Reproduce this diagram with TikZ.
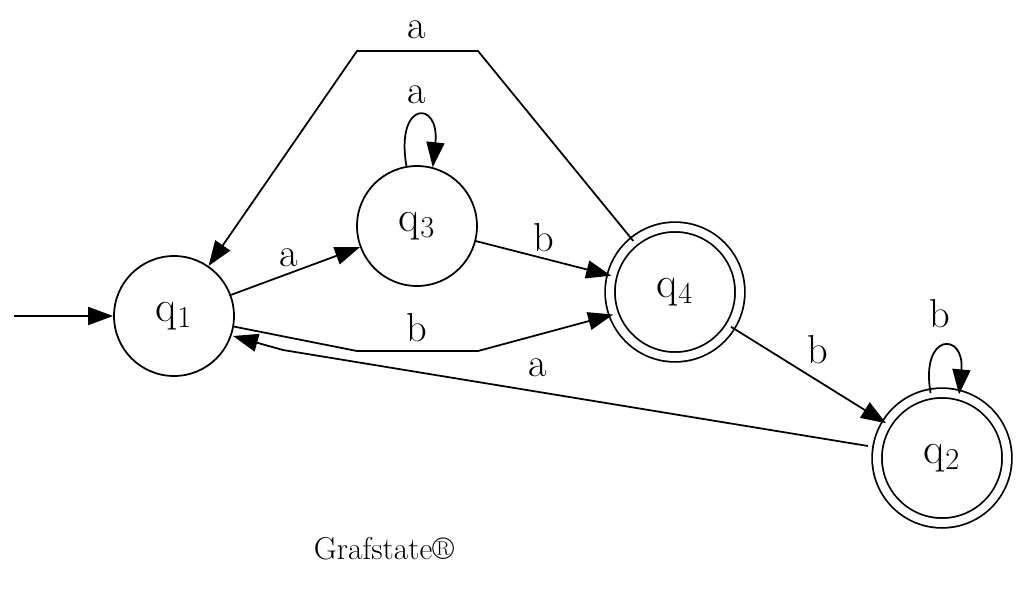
\documentclass[tikz,border=0pt]{standalone}
\usepackage{tikz}
\usetikzlibrary{arrows.meta,positioning,calc}

\tikzset{
    state/.style={draw, circle, line width=1pt, minimum size=2.4cm, inner sep=0pt, font=\fontsize{25}{30}\selectfont},
    accept/.style={state, double, double distance=0.16cm, minimum size=2.6cm},
    edge/.style={-{Triangle[length=0.5cm,width=0.36cm]}, line width=1pt},
    lbl/.style={font=\fontsize{23}{26}\selectfont}
}

\begin{document}
\begin{tikzpicture}[x=0.02cm, y=-0.02cm]
    \useasboundingbox (0,0) rectangle (1024,589);

    % States
    \node[state]  (q1) at (174,316) {q$_1$};
    \node[state]  (q3) at (417,226) {q$_3$};
    \node[accept] (q4) at (675,292) {q$_4$};
    \node[accept] (q2) at (942,458) {q$_2$};
    \coordinate (start) at (14,316);

    % Bend points
    \coordinate (t1) at (478,51);
    \coordinate (t2) at (357,51);
    \coordinate (m1) at (357,351);
    \coordinate (m2) at (478,351);
    \coordinate (r1) at (283,350);
    \coordinate (r2) at (233,336);
    \coordinate (r0) at (868,446);

    % Transitions
    \draw[edge] (start) -- (q1);
    \draw[edge] (q4) -- (t1) -- (t2) -- (q1);
    \node[lbl] (la1) at (417,30) {a};
    \draw[edge] (q3.100) .. controls (395,100) and (440,100) .. (q3.75);
    \node[lbl] (la3) at (417,95) {a};
    \draw[edge] (q1) -- node[lbl, above, pos=0.45] {a} (q3);
    \draw[edge] (q3) -- node[lbl, above] {b} (q4);
    \draw[edge] (q1.350) -- (m1) -- (m2) -- (q4.200);
    \node[lbl] (lb1) at (417,328) {b};
    \draw[edge] (q4) -- node[lbl, above right, pos=0.45] {b} (q2);
    \draw[edge] (r0) -- (r1) -- (r2);
    \node[lbl] (la2) at (538,368) {a};
    \draw[edge] (q2.100) .. controls (920,332) and (965,332) .. (q2.75);
    \node[lbl] (lb2) at (940,314) {b};

    % Caption
    \node[font=\fontsize{18}{20}\selectfont] (cap) at (384,549) {Grafstate\textregistered};
\end{tikzpicture}
\end{document}
